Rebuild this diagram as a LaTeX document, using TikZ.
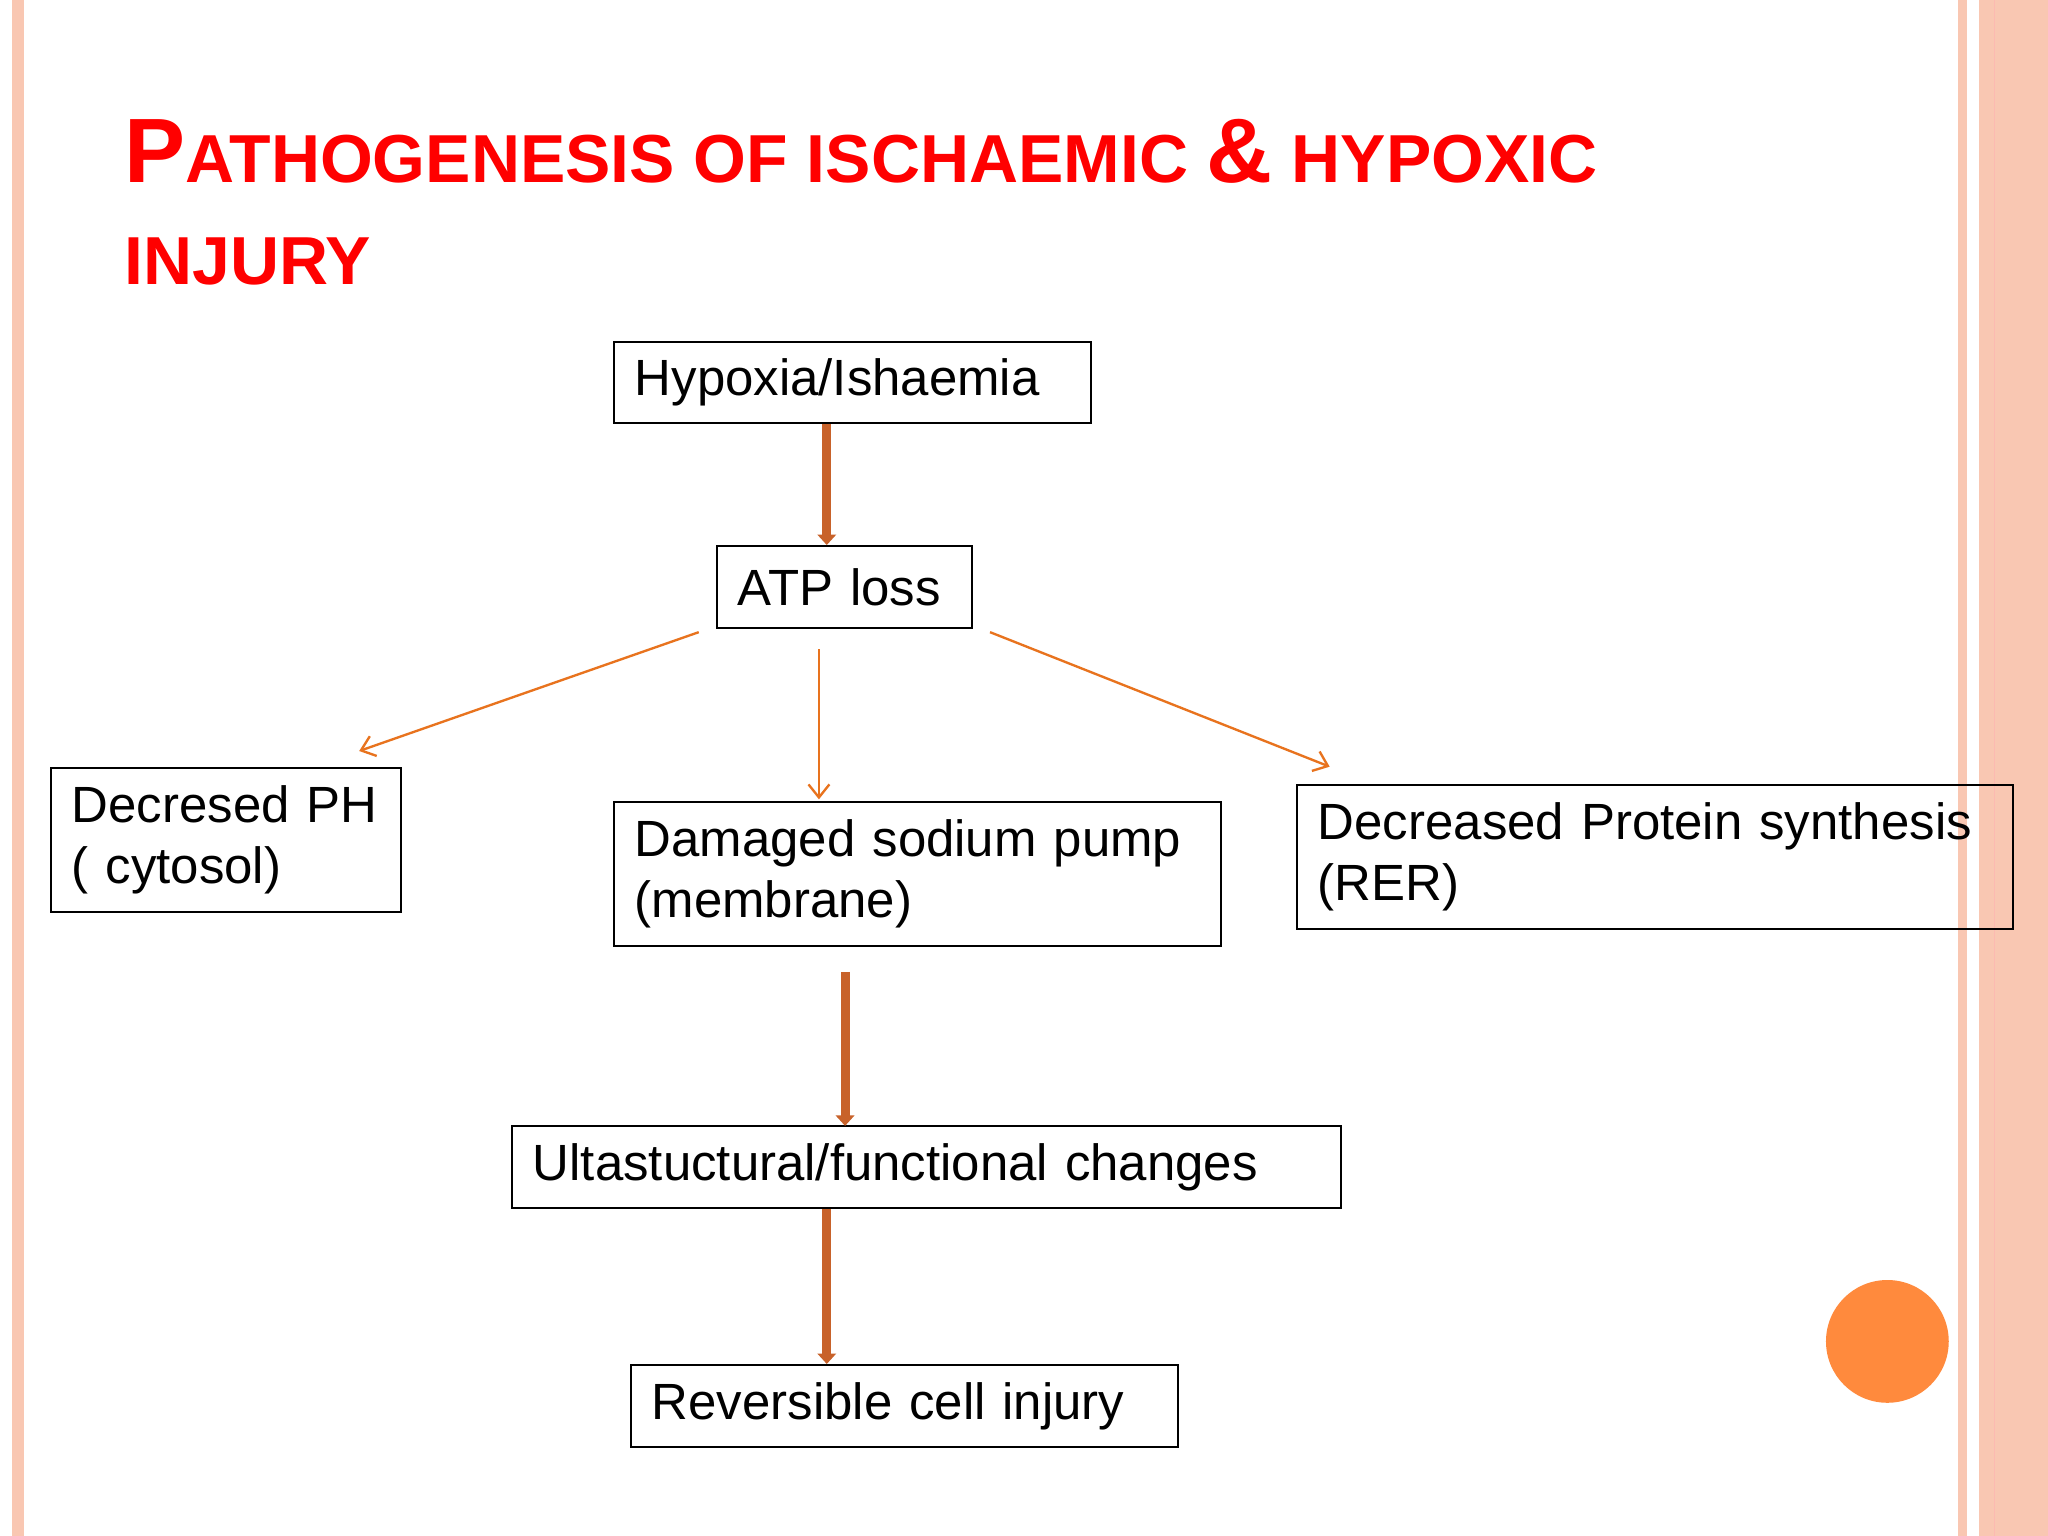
\documentclass[tikz,border=0pt]{standalone}
\usepackage{fontspec}
\setmainfont{Liberation Sans}
\usetikzlibrary{arrows.meta}
\definecolor{ttl}{HTML}{FF0000}
\definecolor{thick}{HTML}{C8622A}
\definecolor{thin}{HTML}{E8731E}
\definecolor{stripe}{HTML}{F9C7B2}
\definecolor{dot}{HTML}{FF8A3D}
\begin{document}
\begin{tikzpicture}[x=0.5pt,y=-0.5pt,
  box/.style={draw=black,line width=0.7pt,inner xsep=8pt,inner ysep=0pt,align=left,font=\fontsize{19.5}{23.5}\selectfont},
  big/.style={draw=thick,line width=3.5pt,-{Triangle[width=7pt,length=4pt]}},
  small/.style={draw=thin,line width=0.9pt,-{Straight Barb[width=8pt,length=5pt]}}]
\useasboundingbox (0,0) rectangle (1568,1176);
\fill[white] (0,0) rectangle (1568,1176);
% decoration
\fill[stripe] (9,0) rectangle (18,1176);
\fill[stripe] (1499,0) rectangle (1506,1176);
\fill[stripe] (1515,0) rectangle (1568,1176);
\draw[stripe!70!red!60,line width=0.6pt] (1527,0) -- (1527,1176);
\fill[dot] (1445,1027) circle (47);
% title
\node[anchor=base west,text=ttl,font=\bfseries,inner sep=0] (t1) at (95,140)
 {\fontsize{35}{40}\selectfont P\fontsize{26}{30}\selectfont ATHOGENESIS OF ISCHAEMIC \fontsize{35}{40}\selectfont\&\fontsize{26}{30}\selectfont{} HYPOXIC};
\node[anchor=base west,text=ttl,font=\bfseries\fontsize{26}{30}\selectfont,inner sep=0] (t2) at (95,218) {INJURY};
% boxes
\node[box,text width={(365-32)*0.5pt},minimum height=31pt] (hyp) at (652.5,293) {Hypoxia/Ishaemia};
\node[box,text width={(195-32)*0.5pt},minimum height=31.5pt] (atp) at (646.5,449.5) {ATP loss};
\node[box,text width={(268-32)*0.5pt},minimum height=55pt] (ph) at (173,643) {Decresed PH\\( cytosol)};
\node[box,text width={(465-32)*0.5pt},minimum height=55pt] (na) at (702.5,669) {Damaged sodium pump\\(membrane)};
\node[box,text width={(548-32)*0.5pt},minimum height=55pt] (prot) at (1267,656) {Decreased Protein synthesis\\(RER)};
\node[box,text width={(635-32)*0.5pt},minimum height=31.5pt] (ult) at (709.5,893.5) {Ultastuctural/functional changes};
\node[box,text width={(419-32)*0.5pt},minimum height=31.5pt] (rev) at (692.5,1076.5) {Reversible cell injury};
% connectors
\coordinate (a1) at (535,484); \coordinate (b1) at (275,575);
\coordinate (a2) at (627,497); \coordinate (b2) at (627,612);
\coordinate (a3) at (758,484); \coordinate (b3) at (1018,587);
\coordinate (c1) at (647,744); \coordinate (d1) at (647,862);
\draw[big] (hyp.south -| 633,0) -- (atp.north -| 633,0);
\draw[small] (a1) -- (b1);
\draw[small] (a2) -- (b2);
\draw[small] (a3) -- (b3);
\draw[big] (c1) -- (d1);
\draw[big] (ult.south -| 633,0) -- (rev.north -| 633,0);
\end{tikzpicture}
\end{document}
